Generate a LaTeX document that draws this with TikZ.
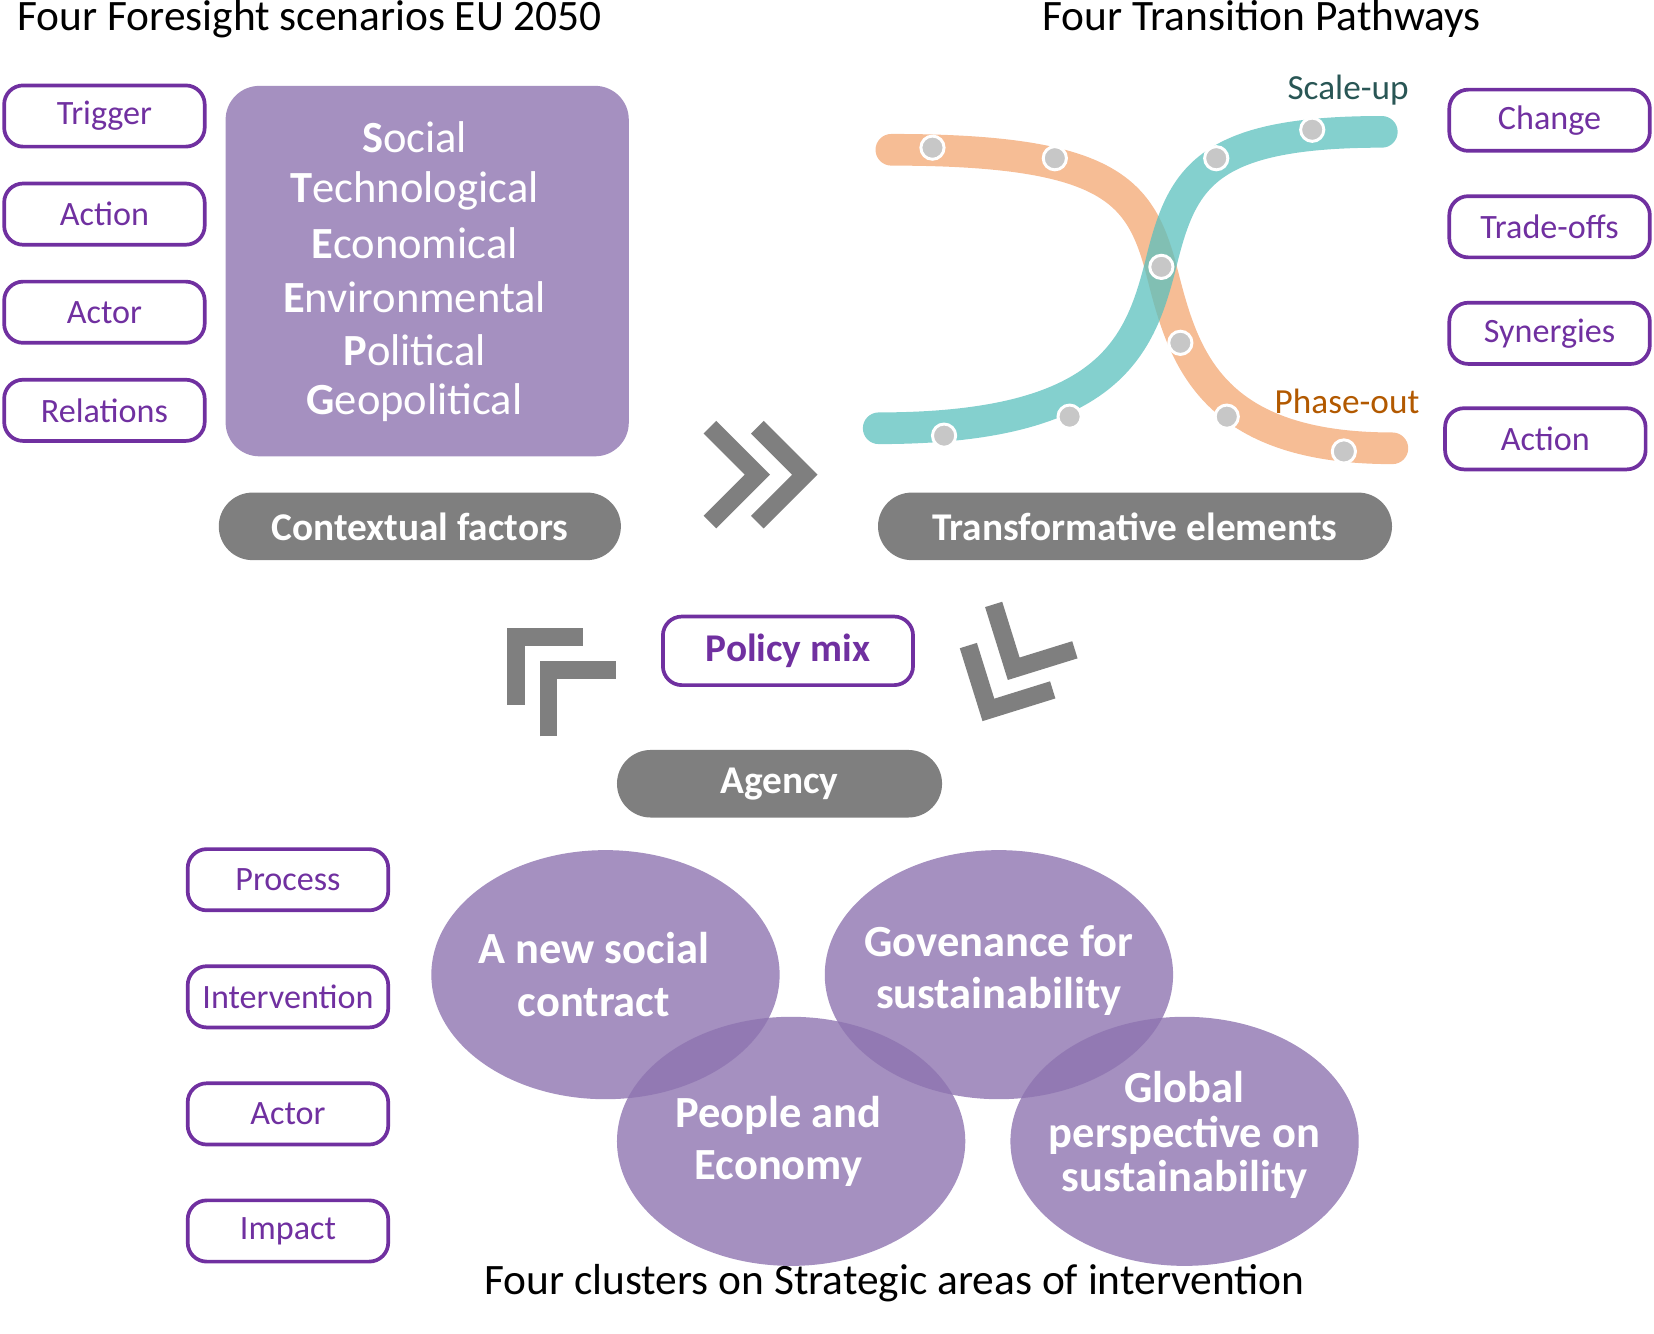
\documentclass[tikz,border=0pt]{standalone}
\usepackage{fontspec}
\usetikzlibrary{shapes.geometric}
\setmainfont{Carlito}
\definecolor{pur}{HTML}{7030A0}
\definecolor{lpur}{RGB}{142,116,176}
\definecolor{gpill}{HTML}{7F7F7F}
\definecolor{teal1}{HTML}{5BC0BE}
\definecolor{orng}{HTML}{F4B183}
\begin{document}
\begin{tikzpicture}[x=0.01cm,y=-0.01cm,
  sbox/.style={draw=pur,line width=1pt,rounded corners=0.18cm,minimum width=1.9cm,minimum height=0.58cm,text=pur,font=\fontsize{9.2}{10}\selectfont},
  pill/.style={fill=gpill,rounded corners=0.32cm,text=white,font=\bfseries\fontsize{10.6}{12}\selectfont},
  chev/.style={draw=gpill,line width=0.17cm,line cap=butt,line join=miter},
  ell/.style={ellipse,fill=lpur,fill opacity=0.8,minimum width=3.3cm,minimum height=2.36cm,inner sep=0pt},
  etxt/.style={text=white,font=\bfseries\fontsize{12}{14.2}\selectfont,align=center},
  dot/.style={circle,fill=black!22,draw=white,line width=0.8pt,minimum size=0.22cm,inner sep=0pt},
  ttl/.style={font=\fontsize{11.7}{13}\selectfont}]
\useasboundingbox (0,0) rectangle (1568,1264);
\node[ttl,anchor=west] (t1) at (4,18) {Four Foresight scenarios EU 2050};
\node[ttl] (t2) at (1196,18) {Four Transition Pathways};
\node[ttl] (t3) at (848,1216) {Four clusters on Strategic areas of intervention};
\foreach \n/\t/\y in {a/Trigger/110,b/Action/203,c/Actor/296,d/Relations/389}
  \node[sbox] (l\n) at (99,\y) {\t};
\node[fill=lpur,fill opacity=0.8,text opacity=1,rounded corners=0.32cm,minimum width=3.82cm,minimum height=3.51cm] (steep) at (405,257) {};
\foreach \b/\r/\y in {S/ocial/130,T/echnological/181,E/conomical/231,E/nvironmental/282,P/olitical/332,G/eopolitical/382}
  \node[text=white,font=\fontsize{12}{14}\selectfont] at (393,\y) {\textbf{\b}\r};
\node[pill,minimum width=3.81cm,minimum height=0.64cm] (cf) at (398,499) {Contextual factors};
\node[pill,minimum width=4.87cm,minimum height=0.64cm] (te) at (1076,499) {Transformative elements};
\node[pill,minimum width=3.08cm,minimum height=0.64cm] (ag) at (739,743) {Agency};
\node[sbox,minimum width=2.37cm,minimum height=0.65cm,font=\bfseries\fontsize{10.6}{12}\selectfont] (pm) at (747,617) {Policy mix};
% chevrons
\draw[chev] (673,405) -- (718,450) -- (673,495);
\draw[chev] (718,405) -- (763,450) -- (718,495);
\draw[chev] (489,668) -- (489,604) -- (553,604);
\draw[chev] (520,698) -- (520,635) -- (584,635);
\draw[chev] (918,612) -- (937,673) -- (998,654);
\draw[chev] (942,573) -- (961,634) -- (1019,616);
% pathways
\draw[orng,line width=0.3cm,line cap=round,opacity=0.85] (845,142) .. controls (1050,142) and (1080,180) .. (1100,252) .. controls (1120,330) and (1140,425) .. (1320,425);
\draw[teal1,line width=0.3cm,line cap=round,opacity=0.75] (833,406) .. controls (1050,406) and (1080,330) .. (1100,252) .. controls (1120,170) and (1140,125) .. (1310,125);
\foreach \x/\y in {884/140, 1000/150, 1153/150, 1244/123, 1101/253, 1119/325, 1163/395, 1274/428, 1014/395, 895/413}
  \node[dot] at (\x,\y) {};
\node[text=teal1!45!black,font=\fontsize{9.5}{11}\selectfont] (su) at (1278,85) {Scale-up};
\node[text=orange!70!black,font=\fontsize{9.5}{11}\selectfont] (po) at (1277,381) {Phase-out};
\foreach \n/\t/\x/\y in {a/Change/1469/114,b/Trade-offs/1469/215,c/Synergies/1469/316,d/Action/1465/416}
  \node[sbox] (r\n) at (\x,\y) {\t};
\foreach \n/\t/\y in {a/Process/834,b/Intervention/945,c/Actor/1056,d/Impact/1167}
  \node[sbox] (b\n) at (273,\y) {\t};
\node[ell] (e1) at (574,924) {};
\node[ell] (e2) at (947,924) {};
\node[ell] (e3) at (750,1082) {};
\node[ell] (e4) at (1123,1082) {};
\node[etxt] (x1) at (563,924) {A new social\\contract};
\node[etxt] (x2) at (947,920) {Govenance for\\sustainability};
\node[etxt] (x3) at (738,1082) {People and\\Economy};
\node[etxt,font=\bfseries\fontsize{12}{12}\selectfont] (x4) at (1123,1076) {Global\\perspective on\\sustainability};
\end{tikzpicture}
\end{document}
